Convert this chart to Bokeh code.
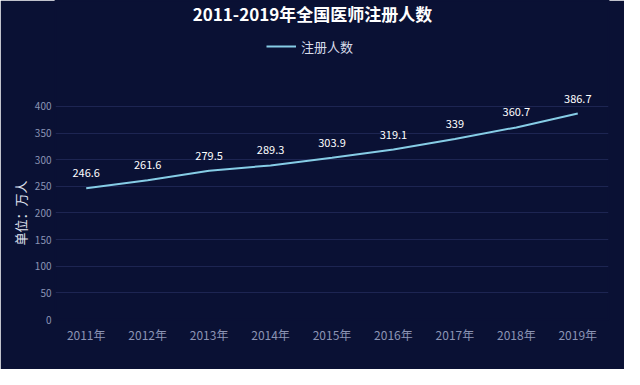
from bokeh.plotting import figure
from bokeh.models import ColumnDataSource, Range1d, FixedTicker, Legend, LegendItem, Label, Title
from bokeh.core.properties import value
from bokeh.embed import file_html
from bokeh.resources import INLINE

years = ["2011年", "2012年", "2013年", "2014年", "2015年", "2016年", "2017年", "2018年", "2019年"]
doctors = [246.6, 261.6, 279.5, 289.3, 303.9, 319.1, 339, 360.7, 386.7]
labels = ["246.6", "261.6", "279.5", "289.3", "303.9", "319.1", "339", "360.7", "386.7"]
y_ticks = [0, 50, 100, 150, 200, 250, 300, 350, 400]

FONT = "Noto Sans CJK SC"
BG = "#0a1134"

src = ColumnDataSource(dict(x=years, y=doctors, lab=labels))

# frame runs to the top of the canvas so title and legend can sit inside it;
# ticks and grid lines stop at 400
p = figure(width=624, height=369, x_range=years, y_range=Range1d(0, 599),
           output_backend="svg", toolbar_location=None,
           background_fill_color=BG, border_fill_color=BG,
           min_border_left=55, min_border_right=16, min_border_top=0, min_border_bottom=50)
p.outline_line_color = BG
p.outline_line_width = 2

title = Label(x=257, y=306, x_units="screen", y_units="screen",
              text="2011-2019年全国医师注册人数", text_align="center", text_baseline="middle",
              text_color="#ffffff", text_font=FONT, text_font_size="17px", text_font_style="bold")
p.add_layout(title)

r = p.line("x", "y", source=src, line_color="#86cde6", line_width=2)
p.text("x", "y", text="lab", source=src, text_color="#ffffff", text_font=value(FONT),
       text_font_size="11px", text_align="center", text_baseline="bottom", y_offset=-11)

leg = Legend(items=[LegendItem(label="注册人数", renderers=[r])], orientation="horizontal",
             location=(211, 263), background_fill_alpha=0, border_line_color=None,
             label_text_color="#d8dcea", label_text_font=FONT, label_text_font_size="13px",
             glyph_width=30, padding=4, margin=0, label_standoff=5)
p.add_layout(leg, "center")

p.yaxis.ticker = FixedTicker(ticks=y_ticks)
for ax in (p.xaxis, p.yaxis):
    ax.axis_line_color = None
    ax.major_tick_line_color = None
    ax.minor_tick_line_color = None
    ax.major_tick_out = 0
    ax.major_tick_in = 0
    ax.major_label_text_color = "#8c94b4"
    ax.major_label_text_font = FONT
p.yaxis.major_label_standoff = 4
p.xaxis.major_label_standoff = 6
p.yaxis.major_label_text_font_size = "10px"
p.xaxis.major_label_text_font_size = "12px"
p.xgrid.grid_line_color = None
p.ygrid.grid_line_color = "#1d2552"
p.ygrid.grid_line_width = 1

# unit label on the left, placed along the lower part of the frame
unit = Title(text="单位：万人", align="left", offset=74, standoff=3,
             text_color="#e0e4f0", text_font=FONT, text_font_size="13px",
             text_font_style="normal")
p.add_layout(unit, "left")

open("out.html", "w").write(file_html(p, INLINE))
